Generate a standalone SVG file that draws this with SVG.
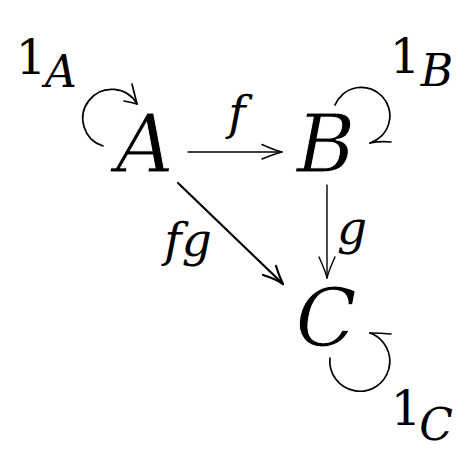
<svg xmlns="http://www.w3.org/2000/svg" width="474" height="474" viewBox="0 0 474 474">
<style>
text{font-family:"DejaVu Serif",serif;fill:#000;text-anchor:middle}
.obj{font-style:italic;font-size:80px;stroke:#fff;stroke-width:1}
.one{font-size:48px}
.sub{font-style:italic;font-size:44px}
.lab{font-style:italic;font-size:47px}
.ln{fill:none;stroke:#000;stroke-linecap:round;stroke-linejoin:round}
</style>
<rect width="474" height="474" fill="#fff"/>
<g id="connectors">
  <g id="arrow-f">
    <path class="ln" d="M188,152 L282,152" stroke-width="1.4"/>
    <path class="ln" d="M262,144.5 Q274,150 282,152 Q274,154 262,159" stroke-width="1.4"/>
    <text class="lab" x="237" y="129">f</text>
  </g>
  <g id="arrow-g">
    <path class="ln" d="M327,185 L327,278" stroke-width="1.4"/>
    <path class="ln" d="M319,257 Q325,270 327,278 Q329,270 335,257" stroke-width="1.4"/>
    <text class="lab" x="352" y="244">g</text>
  </g>
  <g id="arrow-fg">
    <path class="ln" d="M178,183 L283,284" stroke-width="2.2"/>
    <path class="ln" d="M263,275 Q276,279 283,284 Q279,276 276,266" stroke-width="2.2"/>
    <text class="lab" x="188" y="256">fg</text>
  </g>
  <g id="loop-A">
    <path class="ln" d="M103,146 A29,29 0 1,1 137,104" stroke-width="1.7"/>
    <path class="ln" d="M132,84 Q135,96 137,104 Q130,102 124,101" stroke-width="1.7"/>
  </g>
  <g id="loop-B">
    <path class="ln" d="M335,105 A28.5,28.5 0 1,1 370,143" stroke-width="1.7"/>
    <path class="ln" d="M391,142 Q380,141 370,143" stroke-width="1.7"/>
  </g>
  <g id="loop-C">
    <path class="ln" d="M330,358 A30,30 0 1,0 370,333" stroke-width="1.7"/>
    <path class="ln" d="M391,334 Q380,333 370,333" stroke-width="1.7"/>
  </g>
</g>
<g id="node-A"><text class="obj" x="145" y="172">A</text></g>
<g id="node-B"><text class="obj" x="326" y="172">B</text></g>
<g id="node-C"><text class="obj" x="326" y="346">C</text></g>
<g id="label-1A"><text class="one" x="31" y="74">1</text><text class="sub" x="61" y="87">A</text></g>
<g id="label-1B"><text class="one" x="405" y="73">1</text><text class="sub" x="437" y="86">B</text></g>
<g id="label-1C"><text class="one" x="406" y="425">1</text><text class="sub" x="436" y="440">C</text></g>
</svg>
